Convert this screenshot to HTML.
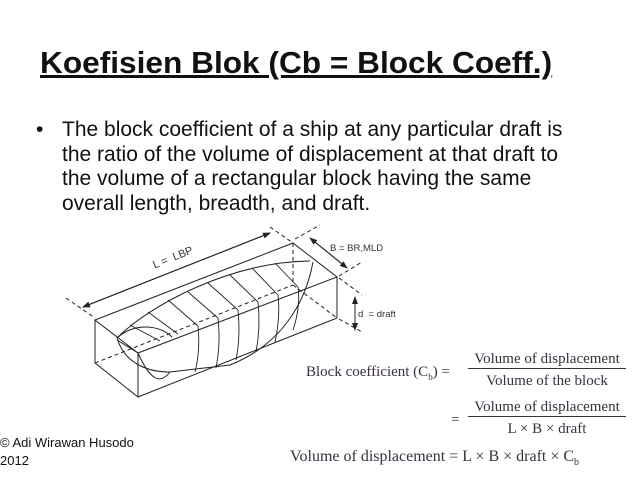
<!DOCTYPE html>
<html><head><meta charset="utf-8"><style>
body{margin:0;width:638px;height:479px;background:#fff;position:relative;overflow:hidden;font-family:"Liberation Sans",sans-serif}
.t{position:absolute;left:40px;top:45px;font-size:31px;font-weight:bold;text-decoration:underline;color:#111;white-space:nowrap;transform-origin:0 0;transform:scaleX(1.02)}
.b{position:absolute;left:36px;top:118px;font-size:21px;line-height:24.5px;color:#111;white-space:nowrap}
.b span{position:absolute;left:0;top:0}
.b div{padding-left:26px;transform-origin:0 0;transform:scaleX(1.0)}
.f{position:absolute;font-family:"Liberation Serif",serif;font-size:15px;color:#3a3040;white-space:nowrap}
.c{position:absolute;left:0;font-size:13px;color:#111;line-height:18px}
</style></head><body>
<div class="t">Koefisien Blok (Cb = Block Coeff.)</div>
<div class="b"><span>•</span><div>The block coefficient of a ship at any particular draft is<br>the ratio of the volume of displacement at that draft to<br>the volume of a rectangular block having the same<br>overall length, breadth, and draft.</div></div>
<svg width="638" height="479" style="position:absolute;left:0;top:0" fill="none" stroke="#222" stroke-width="1">
<defs><marker id="a" markerWidth="8" markerHeight="8" refX="7" refY="4" orient="auto"><path d="M0,1 L8,4 L0,7Z" fill="#222" stroke="none"/></marker></defs>
<!-- top face -->
<polygon points="95,320 293,243 337,277 138,353"/>
<!-- stern face -->
<polyline points="95,320 95,363 138,397 138,353"/>
<!-- front side -->
<line x1="138" y1="397" x2="337" y2="318"/>
<line x1="337" y1="277" x2="337" y2="318"/>
<g stroke-dasharray="4,3">
<line x1="95" y1="363" x2="293" y2="285"/><line x1="293" y1="243" x2="293" y2="285"/><line x1="293" y1="285" x2="337" y2="318"/>
<line x1="66" y1="298" x2="95" y2="318"/><line x1="270" y1="227" x2="293" y2="243"/>
<line x1="295" y1="239" x2="320" y2="225"/><line x1="339" y1="276" x2="362" y2="262"/>
<line x1="339" y1="278" x2="362" y2="295"/><line x1="339" y1="319" x2="362" y2="332"/>
</g>
<line x1="83" y1="307" x2="270" y2="233" marker-end="url(#a)"/>
<line x1="270" y1="233" x2="83" y2="307" marker-end="url(#a)"/>
<line x1="310" y1="238" x2="347" y2="268" marker-end="url(#a)"/>
<line x1="347" y1="268" x2="310" y2="238" marker-end="url(#a)"/>
<line x1="355" y1="297" x2="355" y2="330" marker-end="url(#a)"/>
<line x1="355" y1="330" x2="355" y2="297" marker-end="url(#a)"/>
<!-- hull -->
<path d="M117,338 C150,305 230,262 310,261"/>
<path d="M117,338 C125,365 150,372 170,372 L230,365 C280,345 305,305 313,262"/>
<path d="M117,338 C135,322 160,325 172,337"/>
<path d="M138,353 C150,380 160,385 170,372"/>
<g stroke-width="0.9">
<line x1="117" y1="340" x2="138" y2="353"/><line x1="130" y1="325" x2="160" y2="341"/><line x1="148" y1="312" x2="178" y2="334"/><line x1="168" y1="300" x2="198" y2="326"/><line x1="188" y1="292" x2="218" y2="318"/><line x1="208" y1="283" x2="238" y2="310"/><line x1="230" y1="275" x2="258" y2="302"/><line x1="252" y1="268" x2="278" y2="295"/><line x1="275" y1="263" x2="298" y2="287"/>
<path d="M198,326 C200,345 198,360 195,372"/><path d="M218,318 C220,338 219,352 216,368"/><path d="M238,310 C240,330 239,345 236,360"/><path d="M258,302 C260,320 259,336 256,352"/><path d="M278,295 C280,312 278,328 275,342"/><path d="M298,287 C300,302 297,318 293,330"/>
</g>
</svg>
<div class="f" style="left:152px;top:252px;font-size:11px;color:#333;transform:rotate(-22deg);font-family:'Liberation Sans'">L =&nbsp; LBP</div>
<div class="f" style="left:330px;top:243px;font-size:9.5px;color:#333;font-family:'Liberation Sans'">B = BR,MLD</div>
<div class="f" style="left:358px;top:309px;font-size:9.5px;color:#333;font-family:'Liberation Sans'">d&nbsp; = draft</div>
<div class="f" style="left:306px;top:364px">Block coefficient (C<sub style="font-size:9px">b</sub>) =</div>
<div class="f" style="left:468px;top:351px;width:158px;text-align:center;border-bottom:1.5px solid #333">Volume of displacement</div>
<div class="f" style="left:468px;top:373px;width:158px;text-align:center">Volume of the block</div>
<div class="f" style="left:451px;top:412px">=</div>
<div class="f" style="left:468px;top:399px;width:158px;text-align:center;border-bottom:1.5px solid #333">Volume of displacement</div>
<div class="f" style="left:468px;top:421px;width:158px;text-align:center">L × B × draft</div>
<div class="f" style="left:290px;top:448px;font-size:16px">Volume of displacement = L × B × draft × C<sub style="font-size:10px">b</sub></div>
<div class="c" style="top:434px">© Adi Wirawan Husodo<br>2012</div>
</body></html>
